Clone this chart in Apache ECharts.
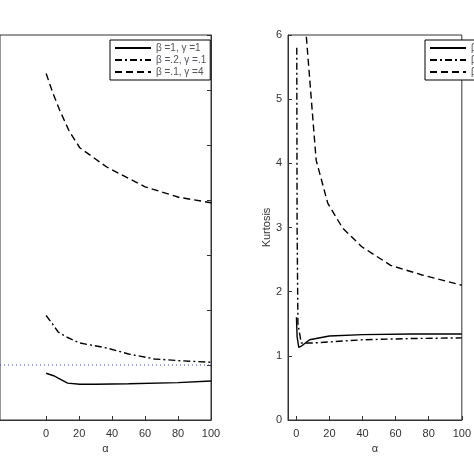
<!DOCTYPE html>
<html><head><meta charset="utf-8">
<script src="https://cdn.jsdelivr.net/npm/echarts@6/dist/echarts.min.js"></script>
<style>html,body{margin:0;background:#fff}#c{width:474px;height:474px}</style>
</head><body><div id="c"></div>
<script>
var names = ['β =1, γ =1', 'β =.2, γ =.1', 'β =.1, γ =4']
var xTicks = [0, 20, 40, 60, 80, 100]
// left panel (y units are tick steps, labels off-image)
var leftSolid = [[0,0.85],[5,0.8],[7.3,0.76],[13,0.67],[20.4,0.65],[30,0.65],[50,0.66],[80,0.68],[100,0.71]]
var leftDashDot = [[0,1.9],[5,1.7],[7.3,1.6],[13,1.5],[20.4,1.4],[36.7,1.31],[50,1.2],[65.7,1.11],[80,1.08],[100,1.05]]
var leftDashed = [[0,6.3],[4,5.95],[8.1,5.64],[14,5.25],[20.4,4.95],[36.7,4.6],[60,4.24],[80.4,4.05],[100,3.95]]
var leftRef = [[-28,1],[100,1]]
// right panel: kurtosis
var rightSolid = [[0.1,1.6],[0.5,1.3],[1.5,1.13],[3,1.15],[8,1.25],[20,1.31],[40,1.33],[70,1.34],[100,1.34]]
var rightDashDot = [[0.3,5.8],[0.5,3],[1,1.5],[3,1.2],[10,1.2],[40,1.25],[70,1.27],[100,1.28]]
var rightDashed = [[5,7],[6,6],[12,4.05],[19,3.38],[28,2.99],[39.6,2.7],[57,2.41],[76,2.26],[100,2.1]]

var styles = [{type:'solid'},{type:[7,3,2,3]},{type:[7,4]}]
function mk(name, data, s, g) {
  return {name:name, type:'line', data:data, xAxisIndex:g, yAxisIndex:g, showSymbol:false, symbol:'none',
    lineStyle:Object.assign({color:'#000', width:1.4}, s), itemStyle:{color:'#000'}, clip:true, silent:true}
}
var ax = {color:'#333', fontSize:11, fontFamily:'Liberation Sans'}
var leg = {orient:'vertical', itemWidth:36, itemHeight:8, itemGap:2, padding:[3,4],
  borderColor:'#000', borderWidth:1, backgroundColor:'#fff', itemStyle:{opacity:0},
  textStyle:{fontSize:10, fontFamily:'Liberation Sans'}}
var chart = echarts.init(document.getElementById('c'))
chart.setOption({
  animation:false,
  grid:[
    {left:-80, width:291, top:35, bottom:54, show:true, borderColor:'#333', borderWidth:1},
    {left:288, width:242, top:35, bottom:54, show:true, borderColor:'#333', borderWidth:1}
  ],
  legend:[
    Object.assign({data:names, left:110, top:40}, leg),
    Object.assign({data:names, left:425, top:40}, leg)
  ],
  xAxis:[
    {gridIndex:0, type:'value', min:-28, max:100, name:'α', nameLocation:'middle', nameGap:22,
     nameTextStyle:ax, axisLabel:Object.assign({customValues:xTicks}, ax),
     axisTick:{inside:true, length:4, customValues:xTicks}, axisLine:{onZero:false, lineStyle:{color:'#333'}}, splitLine:{show:false}},
    {gridIndex:1, type:'value', min:-5, max:100, name:'α', nameLocation:'middle', nameGap:22,
     nameTextStyle:ax, axisLabel:Object.assign({customValues:xTicks}, ax),
     axisTick:{inside:true, length:4, customValues:xTicks}, axisLine:{onZero:false, lineStyle:{color:'#333'}}, splitLine:{show:false}}
  ],
  yAxis:[
    {gridIndex:0, type:'value', min:0, max:7, interval:1, position:'right', axisLabel:{show:false},
     axisTick:{inside:true, length:4}, axisLine:{onZero:false, lineStyle:{color:'#333'}}, splitLine:{show:false}},
    {gridIndex:1, type:'value', min:0, max:6, interval:1, name:'Kurtosis', nameLocation:'middle', nameGap:16,
     nameTextStyle:ax, axisLabel:Object.assign({margin:6}, ax),
     axisTick:{inside:true, length:4}, axisLine:{onZero:false, lineStyle:{color:'#333'}}, splitLine:{show:false}}
  ],
  series:[
    mk(names[0], leftSolid, styles[0], 0),
    mk(names[1], leftDashDot, styles[1], 0),
    mk(names[2], leftDashed, styles[2], 0),
    {type:'line', data:leftRef, xAxisIndex:0, yAxisIndex:0, symbol:'none', silent:true,
     lineStyle:{color:'#3344aa', width:1, type:[1,3]}},
    mk(names[0], rightSolid, styles[0], 1),
    mk(names[1], rightDashDot, styles[1], 1),
    mk(names[2], rightDashed, styles[2], 1)
  ]
})
</script></body></html>
